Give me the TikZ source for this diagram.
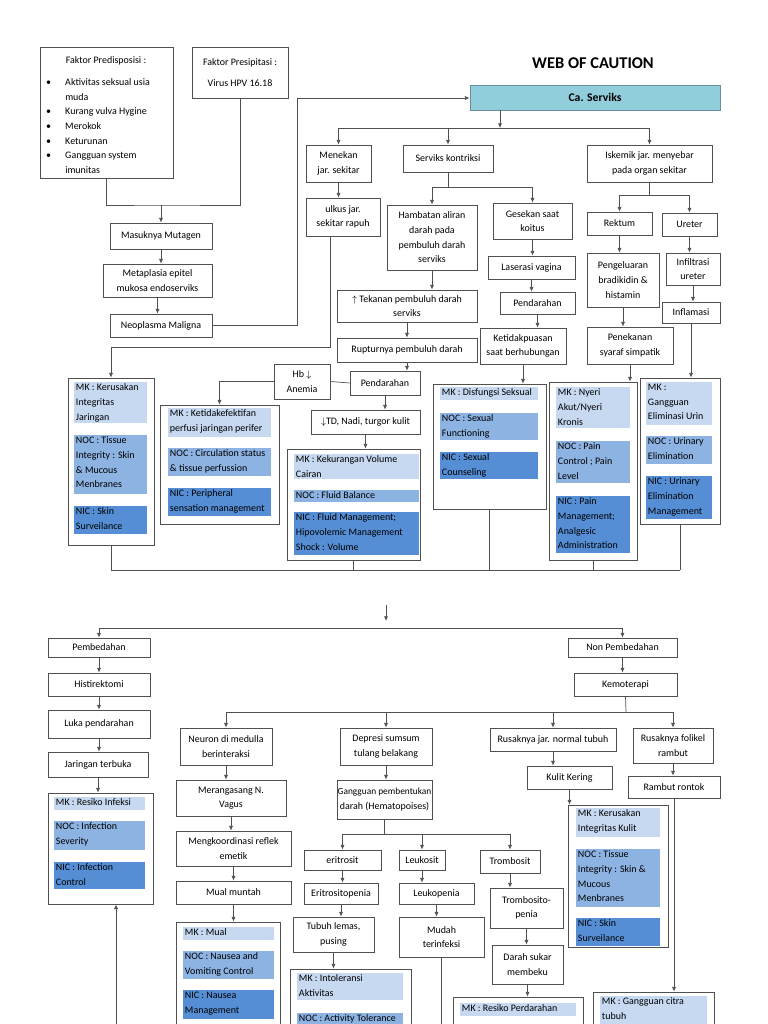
\documentclass[tikz,border=0pt]{standalone}
\usepackage{fontspec}
\setmainfont{Carlito}
\usetikzlibrary{fit,arrows.meta,positioning}
\definecolor{mkc}{RGB}{198,217,241}
\definecolor{noc}{RGB}{141,179,226}
\definecolor{nic}{RGB}{85,142,213}
\definecolor{tcl}{RGB}{146,205,220}
\definecolor{edge}{RGB}{80,80,80}
\tikzset{
  box/.style={draw=edge, line width=0.7pt, inner sep=0pt, fill=white},
  mkbox/.style={draw=edge, line width=0.7pt, inner sep=0pt, fill=white},
  btx/.style={inner sep=0pt, align=center},
  cbt/.style={inner sep=1.5pt, align=left},
  ln/.style={draw=edge, line width=0.6pt},
  arr/.style={ln, -{Latex[length=4pt,width=3.5pt]}},
}
% box from corner to corner, in pixels
\newcommand\bx[4]{\node[box, fit={(#2)(#3)}] (#1) {}; \node[btx] (#1t) at (#1.center) {#4};}
\newcommand\mk[3]{\node[mkbox, fit={(#2)(#3)}] (#1) {};}
\newcommand\cb[5]{\fill[#2] (#3) rectangle (#4); \node[cbt, anchor=north west] (#1) at (#3) {#5};}
\newcommand\dn[2]{\draw[arr] (#1.south) -- (#1.south |- #2.north);}
\begin{document}
\begin{tikzpicture}[x=0.03cm, y=-0.03cm, font=\fontsize{8.5}{12.5}\selectfont]
\useasboundingbox (0,0) rectangle (768,1024);
\fill[white] (0,0) rectangle (768,1024);

% upper web
\node[box, fit={(40,47)(173,178)}] (pre) {};
\node[anchor=north, align=center] (preh) at (106,52) {Faktor Predisposisi :};
\node[anchor=north west, align=left, inner sep=0pt] (prel) at (46,75)
  {\begin{tabular}{@{}l@{\hspace{12pt}}l@{}}
   \textbullet & Aktivitas seksual usia\\ & muda\\
   \textbullet & Kurang vulva Hygine\\
   \textbullet & Merokok\\
   \textbullet & Keturunan\\
   \textbullet & Gangguan system\\ & imunitas
   \end{tabular}};
\bx{pres}{192,47}{288,98}{Faktor Presipitasi :\\[6pt] Virus HPV 16.18}
\node[font=\bfseries\fontsize{14}{16}\selectfont] (title) at (593,63) {WEB OF CAUTION};
\node[box, draw=tcl!70!black, fill=tcl, fit={(470,85)(720,110)}] (ca) {};
\node[btx, font=\bfseries\fontsize{10}{12}\selectfont] (cat) at (ca.center) {Ca. Serviks};
\bx{mut}{110,223}{212,249}{Masuknya Mutagen}
\bx{meta}{103,264}{212,297}{Metaplasia epitel\\ mukosa endoserviks}
\bx{neo}{110,314}{212,337}{Neoplasma Maligna}
\bx{men}{306,145}{371,182}{Menekan\\ jar. sekitar}
\bx{ulk}{306,198}{380,236}{ulkus jar.\\ sekitar rapuh}
\bx{ser}{403,145}{493,172}{Serviks kontriksi}
\bx{isk}{587,145}{712,182}{Iskemik jar. menyebar\\ pada organ sekitar}
\bx{ham}{387,205}{477,270}{Hambatan aliran\\ darah pada\\ pembuluh darah\\ serviks}
\bx{ges}{493,203}{572,239}{Gesekan saat\\ koitus}
\bx{las}{488,256}{575,279}{Laserasi vagina}
\bx{pdb}{500,292}{575,314}{Pendarahan}
\bx{ket}{480,328}{566,364}{Ketidakpuasan\\ saat berhubungan}
\bx{tek}{337,290}{477,322}{$\uparrow$ Tekanan pembuluh darah\\ serviks}
\bx{rup}{337,338}{477,362}{Rupturnya pembuluh darah}
\bx{pda}{350,371}{420,395}{Pendarahan}
\bx{hb}{274,364}{330,399}{Hb $\downarrow$\\ Anemia}
\bx{td}{311,410}{420,434}{$\downarrow$TD, Nadi, turgor kulit}
\bx{rek}{587,212}{652,235}{Rektum}
\bx{ure}{662,213}{717,236}{Ureter}
\bx{pen}{587,253}{659,307}{Pengeluaran\\ bradikidin \&\\ histamin}
\bx{inf}{666,253}{720,285}{Infiltrasi\\ ureter}
\bx{ifl}{662,302}{720,323}{Inflamasi}
\bx{syr}{587,327}{673,364}{Penekanan\\ syaraf simpatik}

% MK boxes, upper
\mk{mka}{68,378}{154,545}
\cb{mka1}{mkc}{74,382}{147,423}{MK : Kerusakan\\ Integritas\\ Jaringan}
\cb{mka2}{noc}{74,435}{147,494}{NOC : Tissue\\ Integrity : Skin\\ \& Mucous\\ Menbranes}
\cb{mka3}{nic}{74,506}{147,534}{NIC : Skin\\ Surveilance}
\mk{mkb}{160,405}{279,524}
\cb{mkb1}{mkc}{168,408}{271,437}{MK : Ketidakefektifan\\ perfusi jaringan perifer}
\cb{mkb2}{noc}{168,448}{271,476}{NOC : Circulation status\\ \& tissue perfussion}
\cb{mkb3}{nic}{168,488}{271,516}{NIC : Peripheral\\ sensation management}
\mk{mkc}{287,449}{420,560}
\cb{mkc1}{mkc}{294,454}{419,479}{MK : Kekurangan Volume\\ Cairan}
\cb{mkc2}{noc}{294,490}{419,502}{NOC : Fluid Balance}
\cb{mkc3}{nic}{294,512}{419,555}{NIC : Fluid Management;\\ Hipovolemic Management\\ Shock : Volume}
\mk{mkd}{433,384}{546,509}
\cb{mkd1}{mkc}{440,387}{538,400}{MK : Disfungsi Seksual}
\cb{mkd2}{noc}{440,413}{538,440}{NOC : Sexual\\ Functioning}
\cb{mkd3}{nic}{440,452}{538,479}{NIC : Sexual\\ Counseling}
\mk{mke}{549,382}{637,560}
\cb{mke1}{mkc}{556,387}{630,428}{MK : Nyeri\\ Akut/Nyeri\\ Kronis}
\cb{mke2}{noc}{556,441}{630,483}{NOC : Pain\\ Control ; Pain\\ Level}
\cb{mke3}{nic}{556,496}{630,553}{NIC : Pain\\ Management;\\ Analgesic\\ Administration}
\mk{mkf}{640,378}{720,524}
\cb{mkf1}{mkc}{646,382}{712,425}{MK :\\ Gangguan\\ Eliminasi Urin}
\cb{mkf2}{noc}{646,436}{712,464}{NOC : Urinary\\ Elimination}
\cb{mkf3}{nic}{646,476}{712,519}{NIC : Urinary\\ Elimination\\ Management}

% upper connectors
\coordinate (j1) at (161,205);
\draw[ln] (pre.south) |- (j1) -| (pres.south);
\draw[arr] (j1) -- (mut.north);
\dn{mut}{meta} \dn{meta}{neo}
\coordinate (k1) at (297,98);
\draw[arr] (neo.east) -| (k1) -- (k1 -| ca.west);
\coordinate (k2) at (500,128);
\draw[arr] (k2 |- ca.south) -- (k2);
\draw[ln] (men.north |- k2) -- (isk.north |- k2);
\draw[arr] (men.north |- k2) -- (men.north);
\draw[arr] (ser.north |- k2) -- (ser.north);
\draw[arr] (isk.north |- k2) -- (isk.north);
\dn{men}{ulk}
\coordinate (k3) at (433,187);
\draw[ln] (ser.south) -- (ser.south |- k3);
\draw[ln] (ham.north |- k3) -- (ges.north |- k3);
\draw[arr] (ham.north |- k3) -- (ham.north);
\draw[arr] (ges.north |- k3) -- (ges.north);
\dn{ges}{las} \dn{las}{pdb} \dn{pdb}{ket}
\dn{ham}{tek} \dn{tek}{rup} \dn{rup}{pda} \dn{pda}{td} \dn{td}{mkc}
\draw[ln] (hb.east) -- (pda.west);
\draw[arr] (hb.west) -| (mkb.north);
\coordinate (k15) at (330,236);
\coordinate (k5) at (111,347);
\draw[arr] (k15) |- (k5) -- (mka.north);
\coordinate (k4) at (646,195);
\draw[ln] (isk.south) -- (isk.south |- k4);
\draw[ln] (rek.north |- k4) -- (ure.north |- k4);
\draw[arr] (rek.north |- k4) -- (rek.north);
\draw[arr] (ure.north |- k4) -- (ure.north);
\dn{rek}{pen} \dn{pen}{syr} \dn{ure}{inf} \dn{inf}{ifl}
\dn{ket}{mkd} \dn{syr}{mke} \dn{ifl}{mkf}
\coordinate (k6) at (111,570);
\coordinate (k7) at (680,570);
\draw[ln] (k6) -- (k7);
\foreach \m in {mka,mkc,mkd,mke,mkf}
  \draw[ln] (\m.south) -- (\m.south |- k6);

% lower web
\coordinate (k8) at (386,605);
\coordinate (k9) at (386,621);
\draw[arr] (k8) -- (k9);
\bx{pem}{48,638}{150,657}{Pembedahan}
\bx{his}{48,673}{150,696}{Histirektomi}
\bx{luk}{48,710}{150,738}{Luka pendarahan}
\bx{jar}{48,752}{148,777}{Jaringan terbuka}
\bx{non}{568,638}{677,657}{Non Pembedahan}
\bx{kem}{574,673}{677,696}{Kemoterapi}
\bx{neu}{180,728}{272,765}{Neuron di  medulla\\ berinteraksi}
\bx{dep}{340,728}{432,765}{Depresi sumsum\\ tulang  belakang}
\bx{rus}{490,728}{616,751}{Rusaknya jar. normal tubuh}
\bx{fol}{633,728}{713,763}{Rusaknya folikel\\ rambut}
\bx{mer}{176,780}{286,816}{Merangasang N.\\ Vagus}
\bx{meg}{176,831}{291,866}{Mengkoordinasi reflek\\ emetik}
\bx{mua}{176,881}{291,904}{Mual muntah}
\bx{gan}{337,780}{432,819}{\fontsize{8}{12.5}\selectfont Gangguan pembentukan\\ darah (Hematopoises)}
\bx{kul}{527,766}{612,789}{Kulit Kering}
\bx{ram}{628,776}{720,798}{Rambut rontok}
\bx{eri}{304,850}{381,870}{eritrosit}
\bx{leu}{399,850}{445,870}{Leukosit}
\bx{tro}{480,850}{540,873}{Trombosit}
\bx{erp}{304,883}{378,904}{Eritrositopenia}
\bx{lep}{399,883}{474,904}{Leukopenia}
\bx{trp}{490,888}{563,928}{Trombosito-\\ penia}
\bx{tub}{293,917}{374,952}{Tubuh lemas,\\ pusing}
\bx{mud}{399,917}{484,957}{Mudah\\ terinfeksi}
\bx{dar}{492,945}{563,984}{Darah sukar\\ membeku}

% MK boxes, lower
\mk{mkg}{48,793}{153,904}
\cb{mkg1}{mkc}{54,797}{145,810}{MK : Resiko Infeksi}
\cb{mkg2}{noc}{54,821}{145,850}{NOC : Infection\\ Severity}
\cb{mkg3}{nic}{54,862}{145,889}{NIC : Infection\\ Control}
\mk{mkh}{568,805}{668,947}
\cb{mkh1}{mkc}{576,808}{660,837}{MK : Kerusakan\\ Integritas Kulit}
\cb{mkh2}{noc}{576,849}{660,907}{NOC : Tissue\\ Integrity : Skin \&\\ Mucous\\ Menbranes}
\cb{mkh3}{nic}{576,918}{660,946}{NIC : Skin\\ Surveilance}
\mk{mki}{176,922}{280,1040}
\cb{mki1}{mkc}{183,927}{274,940}{MK : Mual}
\cb{mki2}{noc}{183,951}{274,979}{NOC : Nausea and\\ Vomiting Control}
\cb{mki3}{nic}{183,990}{274,1019}{NIC : Nausea\\ Management}
\mk{mkj}{290,969}{411,1040}
\cb{mkj1}{mkc}{297,973}{403,1000}{MK : Intoleransi\\ Aktivitas}
\cb{mkj2}{noc}{297,1013}{403,1030}{NOC : Activity Tolerance}
\mk{mkk}{453,997}{583,1040}
\cb{mkk1}{mkc}{460,1003}{576,1016}{MK : Resiko Perdarahan}
\mk{mkl}{593,992}{714,1040}
\cb{mkl1}{mkc}{600,996}{707,1030}{MK : Gangguan citra\\ tubuh}

% lower connectors
\coordinate (k10) at (386,628);
\draw[ln] (pem.north |- k10) -- (non.north |- k10);
\draw[arr] (pem.north |- k10) -- (pem.north);
\draw[arr] (non.north |- k10) -- (non.north);
\dn{pem}{his} \dn{his}{luk} \dn{luk}{jar} \dn{jar}{mkg}
\dn{non}{kem}
\coordinate (k11) at (626,712);
\draw[ln] (kem.south) -- (k11);
\draw[ln] (neu.north |- k11) -- (fol.north |- k11);
\foreach \b in {neu,dep,rus,fol}
  \draw[arr] (\b.north |- k11) -- (\b.north);
\dn{neu}{mer} \dn{mer}{meg} \dn{meg}{mua} \dn{mua}{mki}
\dn{dep}{gan} \dn{rus}{kul} \dn{kul}{mkh} \dn{fol}{ram}
\draw[arr] (ram.south) -- (ram.south |- mkl.north);
\coordinate (k12) at (384,834);
\draw[ln] (gan.south) -- (gan.south |- k12);
\draw[ln] (eri.north |- k12) -- (tro.north |- k12);
\foreach \b in {eri,leu,tro}
  \draw[arr] (\b.north |- k12) -- (\b.north);
\dn{eri}{erp} \dn{erp}{tub} \dn{tub}{mkj}
\dn{leu}{lep} \dn{lep}{mud}
\dn{tro}{trp} \dn{trp}{dar} \dn{dar}{mkk}
\coordinate (k13) at (426,1030);
\draw[ln] (mud.south) -- (mud.south |- k13);
\coordinate (k14) at (116,1030);
\draw[arr] (k14) -- (k14 |- mkg.south);
\end{tikzpicture}
\end{document}
